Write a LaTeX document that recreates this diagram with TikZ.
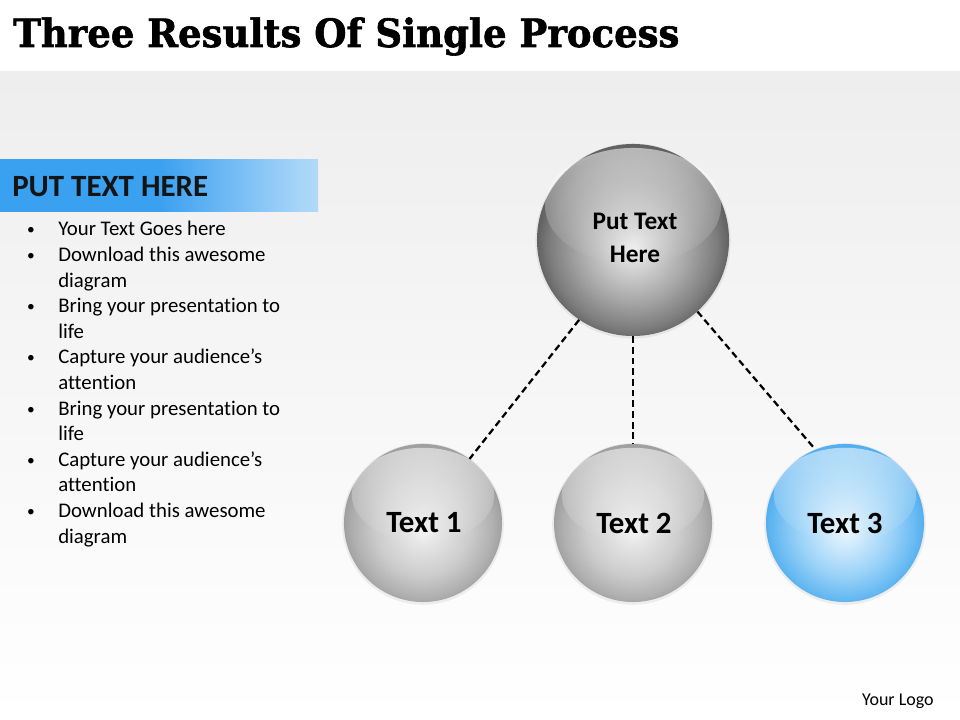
\documentclass[tikz,border=0pt]{standalone}
\usepackage{fontspec}
\setmainfont{Carlito}[Ligatures=NoCommon]
\newfontfamily\titlefont{DejaVu Serif Bold}[FakeBold=1.6]
\usetikzlibrary{fadings}
\definecolor{bgtop}{HTML}{EEEEEE}
\definecolor{bblue}{HTML}{3AA0F0}
\definecolor{ta}{HTML}{F0F0F0}\definecolor{tb}{HTML}{DADADA}\definecolor{tc}{HTML}{A8A8A8}\definecolor{td}{HTML}{7E7E7E}\definecolor{te}{HTML}{626262}
\definecolor{ga}{HTML}{F4F4F4}\definecolor{gb}{HTML}{E6E6E6}\definecolor{gc}{HTML}{CDCDCD}\definecolor{gd}{HTML}{B0B0B0}\definecolor{ge}{HTML}{A0A0A0}
\definecolor{ba}{HTML}{EAF6FE}\definecolor{bb}{HTML}{D4ECFC}\definecolor{bc}{HTML}{9CD3F8}\definecolor{bd}{HTML}{6ABBF2}\definecolor{be}{HTML}{54AFF0}
\pgfdeclareradialshading{sphtop}{\pgfpoint{0bp}{-2.5bp}}{color(0bp)=(ta); color(4bp)=(tb); color(14bp)=(tc); color(21.5bp)=(td); color(25bp)=(te); color(50bp)=(te)}
\pgfdeclareradialshading{sphgray}{\pgfpoint{0bp}{-2.5bp}}{color(0bp)=(ga); color(4.5bp)=(gb); color(14.5bp)=(gc); color(22bp)=(gd); color(25bp)=(ge); color(50bp)=(ge)}
\pgfdeclareradialshading{sphblue}{\pgfpoint{0bp}{-2.5bp}}{color(0bp)=(ba); color(4.5bp)=(bb); color(14.5bp)=(bc); color(22bp)=(bd); color(25bp)=(be); color(50bp)=(be)}
\pgfdeclarehorizontalshading{banner}{100bp}{color(0bp)=(bblue); color(50bp)=(bblue); color(72bp)=(bblue!45!white); color(90bp)=(bgtop); color(100bp)=(bgtop)}
\tikzfading[name=glossfade, top color=transparent!45, bottom color=transparent!100]
\tikzset{
  sph/.style={circle, inner sep=0pt, align=center, text=black},
  bigsph/.style={sph, minimum size=4.8cm, font=\bfseries\fontsize{18}{23.5}\selectfont},
  smallsph/.style={sph, minimum size=3.95cm, font=\bfseries\fontsize{22}{26}\selectfont},
  gloss/.style={white, path fading=glossfade},
  halo/.style={black, fill opacity=0.06},
  link/.style={black, line width=1.6pt, dash pattern=on 4.8pt off 2.8pt},
  bullettext/.style={anchor=base west, inner sep=0pt, font=\fontsize{14.8}{18}\selectfont},
  bulletmark/.style={anchor=base, inner sep=0pt, font=\fontsize{11}{14}\selectfont},
}
\begin{document}
\begin{tikzpicture}[x=0.025cm, y=-0.025cm]
\useasboundingbox (0,0) rectangle (960,720);
% background
\fill[white] (0,0) rectangle (960,72);
\shade[top color=bgtop, bottom color=white] (0,72) rectangle (960,720);
% title
\node[anchor=base west, inner sep=0pt] (title) at (13,47)
  {\resizebox{16.65cm}{0.74cm}{\titlefont Three Results Of Single Process}};
% banner
\shade[shading=banner] (0,160) rectangle (318,212);
\node[anchor=base west, inner sep=0pt, text=black!92, font=\bfseries\fontsize{22}{26}\selectfont] (banner) at (12,197) {PUT TEXT HERE};
% bullet list
\foreach \t [count=\i] in {Your Text Goes here, Download this awesome, diagram,
  Bring your presentation to, life, Capture your audience’s, attention,
  Bring your presentation to, life, Capture your audience’s, attention,
  Download this awesome, diagram}
  \node[bullettext] (line\i) at (58,{236+(\i-1)*25.6}) {\t};
\foreach \i in {1,2,4,6,8,10,12}
  \node[bulletmark] (bul\i) at (31,{235+(\i-1)*25.6}) {•};
% halos
\fill[halo] (633,241) circle [radius=2.44cm];
\fill[halo] (423,524) circle [radius=2.02cm];
\fill[halo] (633,524) circle [radius=2.02cm];
\fill[halo] (845,524) circle [radius=2.02cm];
% spheres
\node[bigsph, shading=sphtop] (top) at (633,240) {};
\node[smallsph, shading=sphgray] (t1) at (423,523) {};
\node[smallsph, shading=sphgray] (t2) at (633,523) {};
\node[smallsph, shading=sphblue] (t3) at (845,523) {};
% gloss
\fill[gloss] (633,206) ellipse [x radius=2.2cm, y radius=1.45cm];
\fill[gloss] (423,495) ellipse [x radius=1.78cm, y radius=1.18cm];
\fill[gloss] (633,495) ellipse [x radius=1.78cm, y radius=1.18cm];
\fill[gloss] (845,495) ellipse [x radius=1.78cm, y radius=1.18cm];
% labels
\node[bigsph] (toplabel) at (635,238) {Put Text\\Here};
\node[smallsph] (l1) at (424,523) {Text 1};
\node[smallsph] (l2) at (634,523) {Text 2};
\node[smallsph] (l3) at (845,523) {Text 3};
% connectors
\draw[link] (top.-124) -- (t1.54);
\draw[link] (top.-90) -- (t2.90);
\draw[link] (top.-48) -- (t3.112);
% logo
\node[anchor=base east, inner sep=0pt, font=\fontsize{12.8}{15}\selectfont] (logo) at (934,705) {Your Logo};
\end{tikzpicture}
\end{document}
